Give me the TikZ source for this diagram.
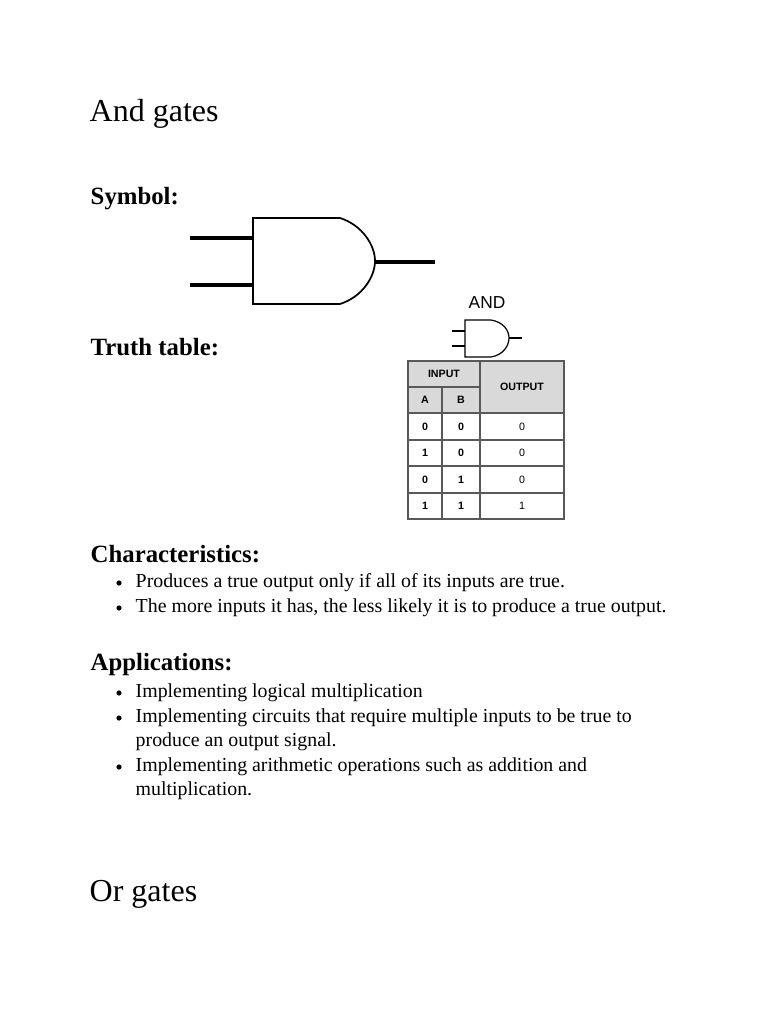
\documentclass[tikz,border=0pt]{standalone}
\usepackage{fontspec}
\setmainfont{Liberation Serif}
\newfontfamily\tablefont{Liberation Sans}
\usetikzlibrary{positioning}
\tikzset{
  title/.style={anchor=west, font=\fontsize{24}{28}\selectfont},
  head/.style={anchor=west, font=\fontsize{18.6}{22}\selectfont\bfseries},
  body/.style={anchor=west, font=\fontsize{14.9}{18}\selectfont},
  cell/.style={font=\tablefont\fontsize{8}{9}\selectfont},
  bcell/.style={font=\tablefont\fontsize{8}{9}\selectfont\bfseries},
}
\begin{document}
\begin{tikzpicture}[x=0.75pt, y=-0.75pt]
\useasboundingbox (0,0) rectangle (768,1024);
% Headings
\node[title] (and) at (85,114) {And gates};
\node[head] (sym) at (86,199) {Symbol:};
\node[head] (tt) at (86,347) {Truth table:};
\node[head] (ch) at (86,554) {Characteristics:};
\node[head] (ap) at (86,665) {Applications:};
\node[title] (or) at (85,894) {Or gates};

% Big AND symbol
\draw[line width=1.3pt] (253,218) -- (340,218) .. controls (362,225) and (375,245) .. (375,261)
  .. controls (375,277) and (362,297) .. (340,304) -- (253,304) -- cycle;
\draw[line width=3pt] (190,238) -- (253,238);
\draw[line width=3pt] (190,285) -- (253,285);
\draw[line width=3pt] (375,262) -- (435,262);

% Small AND symbol
\node[font=\tablefont\fontsize{13}{15}\selectfont] (lbl) at (487,303) {AND};
\draw[line width=0.9pt] (465,320) -- (491,320) .. controls (503,322) and (509,330) .. (509,338)
  .. controls (509,346) and (503,355) .. (491,357) -- (465,357) -- cycle;
\draw[line width=0.9pt] (452,331) -- (465,331);
\draw[line width=0.9pt] (452,346) -- (465,346);
\draw[line width=0.9pt] (509,338) -- (522,338);

% Truth table
\fill[gray!30] (408,361) rectangle (564,413);
\draw[gray!70!black, line width=0.8pt] (408,361) rectangle (564,519);
\foreach \y in {413,440,466,493} \draw[gray!70!black, line width=0.8pt] (408,\y) -- (564,\y);
\draw[gray!70!black, line width=0.8pt] (408,387) -- (480,387);
\draw[gray!70!black, line width=0.8pt] (480,361) -- (480,519);
\draw[gray!70!black, line width=0.8pt] (442,387) -- (442,519);
\node[bcell] (inp) at (444,374) {INPUT};
\node[bcell] (outp) at (522,387) {OUTPUT};
\node[bcell] (ca) at (425,400) {A};
\node[bcell] (cb) at (461,400) {B};
\foreach \a/\b/\o/\y [count=\i] in {0/0/0/427, 1/0/0/453, 0/1/0/480, 1/1/1/506} {
  \node[bcell] (a\i) at (425,\y) {\a};
  \node[bcell] (b\i) at (461,\y) {\b};
  \node[cell] (o\i) at (522,\y) {\o};
}

% Bullet lists
\foreach \y/\t in {583/{Produces a true output only if all of its inputs are true.},
                   608/{The more inputs it has, the less likely it is to produce a true output.},
                   693/{Implementing logical multiplication},
                   718/{Implementing circuits that require multiple inputs to be true to},
                   767/{Implementing arithmetic operations such as addition and}} {
  \fill (119,\y) circle (2.6);
  \node[body] at (131,\y) {\t};
}
\node[body] (c2) at (131,742) {produce an output signal.};
\node[body] (c3) at (131,791) {multiplication.};
\end{tikzpicture}
\end{document}
